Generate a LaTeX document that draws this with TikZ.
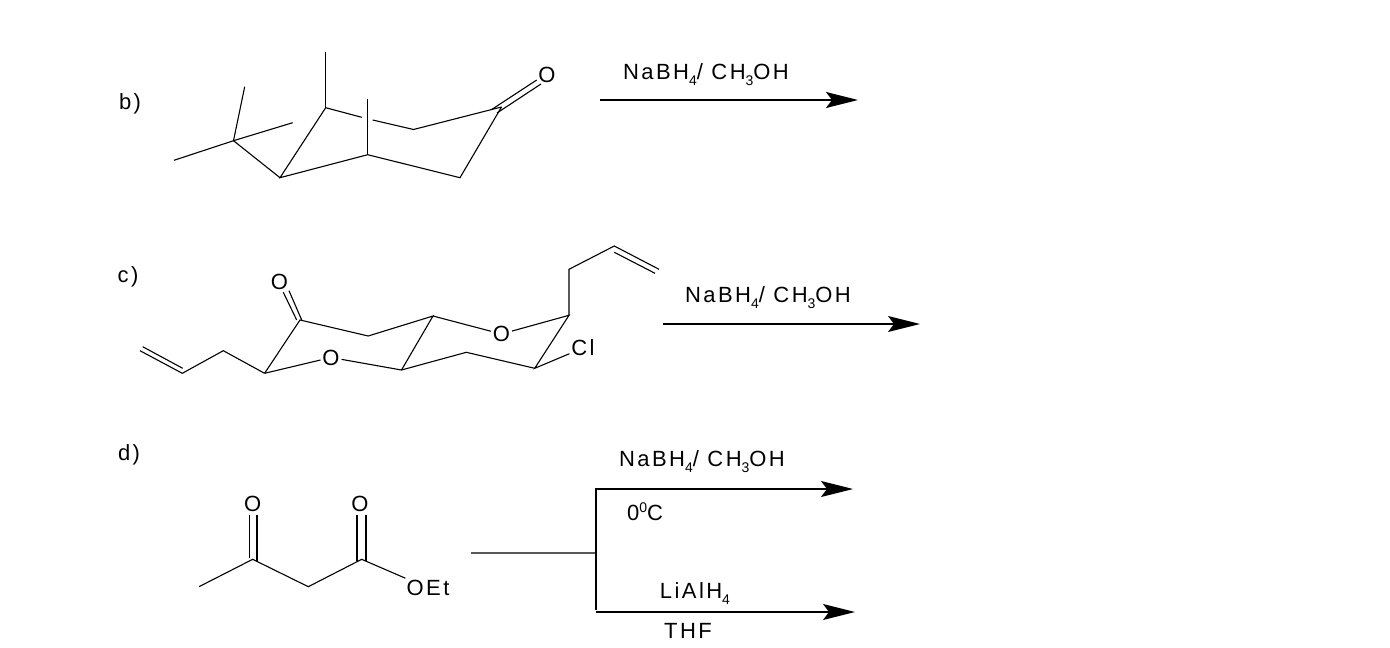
\documentclass[tikz,border=0pt]{standalone}
\usepackage{fontspec}
\setmainfont[LetterSpace=11]{Liberation Sans}
\usetikzlibrary{
    arrows.meta,
    positioning,
}
\newcommand{\lowdigit}[1]{\raisebox{-6pt}{\fontsize{14}{14}\selectfont #1}}
\newcommand{\highdigit}[1]{\raisebox{8pt}{\fontsize{14}{14}\selectfont #1}}
\tikzstyle{atom} = [inner sep=0pt, outer sep=2pt, font=\fontsize{22}{24}\selectfont]
\tikzstyle{tag} = [inner sep=0pt, font=\fontsize{22}{24}\selectfont]
\tikzstyle{line} = [draw, line width=1.1pt]
\tikzstyle{rxn} = [draw, line width=1.5pt,
    -{Stealth[length=32pt,width=16pt,inset=6pt]}]
\begin{document}
\begin{tikzpicture}[x=1pt, y=-1pt]
        \useasboundingbox (0,0) rectangle (1390,648);
        % Place nodes
        \node [tag] (tag_b) at (130,104) {b)};
        \node [tag] (tag_c) at (128,277) {c)};
        \node [tag] (tag_d) at (129,455) {d)};
        % first ketone
        \coordinate (b_c1) at (501.5,107);
        \coordinate (b_c2) at (413.5,129.5);
        \coordinate (b_c3) at (325.7,107.7);
        \coordinate (b_c4) at (280,177.7);
        \coordinate (b_c5) at (367.7,154.7);
        \coordinate (b_c6) at (460,177.7);
        \coordinate (b_me1) at (325.7,52);
        \coordinate (b_me2) at (367.7,99);
        \coordinate (b_tbu) at (233.5,140.7);
        \coordinate (b_me3) at (244.7,86.7);
        \coordinate (b_me4) at (292.7,122.7);
        \coordinate (b_me5) at (174,160.3);
        \coordinate (b_gapl) at (361.7,117.3);
        \coordinate (b_gapr) at (372.7,120);
        \coordinate (b_dbl1) at (491.7,109.5);
        \coordinate (b_dbl2) at (536.7,80);
        \coordinate (b_dbl3) at (497,113);
        \coordinate (b_dbl4) at (541,84);
        \node [atom] (b_o) at (547,75) {O};
        % bicyclic lactone
        \coordinate (c_a1) at (142.7,346.7);
        \coordinate (c_a2) at (182.7,368.3);
        \coordinate (c_a0) at (140,350.7);
        \coordinate (c_a3) at (182.3,373.3);
        \coordinate (c_a4) at (223.3,350.7);
        \coordinate (c_c1) at (264.6,373.3);
        \coordinate (c_c2) at (300,320);
        \coordinate (c_c3) at (368.2,336);
        \coordinate (c_c4) at (433,316);
        \coordinate (c_c5) at (401.5,370);
        \coordinate (c_c6) at (466.3,352.3);
        \coordinate (c_c7) at (534.7,368.3);
        \coordinate (c_c8) at (569,315.3);
        \coordinate (c_a5) at (569,269.3);
        \coordinate (c_a6) at (614.3,246);
        \coordinate (c_a7) at (659,269.3);
        \coordinate (c_a8) at (614.3,252.3);
        \coordinate (c_a9) at (655,273.3);
        \coordinate (c_dbl1) at (283.3,292.3);
        \coordinate (c_dbl2) at (296.7,320);
        \coordinate (c_dbl3) at (289,290.7);
        \coordinate (c_dbl4) at (301.7,320);
        \node [atom] (c_o1) at (279.4,282) {O};
        \node [atom] (c_o2) at (331,357.5) {O};
        \node [atom] (c_o3) at (501.4,334) {O};
        \node [atom] (c_cl) at (583,348) {Cl};
        % keto ester
        \coordinate (d_me) at (199,586.7);
        \coordinate (d_c1) at (252.7,559.3);
        \coordinate (d_c2) at (308.3,586.7);
        \coordinate (d_c3) at (361.7,559.3);
        \coordinate (d_dbl1) at (249.7,515);
        \coordinate (d_dbl2) at (249.7,558);
        \coordinate (d_dbl3) at (257,515);
        \coordinate (d_dbl4) at (257,561);
        \coordinate (d_dbl5) at (357,515);
        \coordinate (d_dbl6) at (357,561);
        \coordinate (d_dbl7) at (366,515);
        \coordinate (d_dbl8) at (366,561);
        \node [atom] (d_o1) at (252.7,504) {O};
        \node [atom] (d_o2) at (360,504) {O};
        \node [atom] (d_oet) at (428,588) {OEt};
        % reagents
        \coordinate (r_b1) at (600,100);
        \coordinate (r_b2) at (858,100);
        \coordinate (r_c1) at (663,324);
        \coordinate (r_c2) at (920,324);
        \coordinate (r_d0) at (471,553);
        \coordinate (r_d1) at (596,553);
        \coordinate (r_d2) at (596,488);
        \coordinate (r_d3) at (596,610);
        \coordinate (r_d4) at (853,489);
        \coordinate (r_d5) at (855,612);
        \node [tag] (lab_b) at (706,75) {NaBH\lowdigit{4}/ CH\lowdigit{3}OH};
        \node [tag] (lab_c) at (768,298) {NaBH\lowdigit{4}/ CH\lowdigit{3}OH};
        \node [tag] (lab_d1) at (702,462) {NaBH\lowdigit{4}/ CH\lowdigit{3}OH};
        \node [tag] (lab_d2) at (645,512) {0\highdigit{0}C};
        \node [tag] (lab_d3) at (695,594) {LiAlH\lowdigit{4}};
        \node [tag] (lab_d4) at (688,631) {THF};
        % Draw edges
        \path [line] (b_c1) -- (b_c2) -- (b_gapr);
        \path [line] (b_gapl) -- (b_c3) -- (b_c4) -- (b_c5) -- (b_c6) -- (b_c1);
        \path [line] (b_c3) -- (b_me1);
        \path [line] (b_c5) -- (b_me2);
        \path [line] (b_c4) -- (b_tbu) -- (b_me3);
        \path [line] (b_me5) -- (b_tbu) -- (b_me4);
        \path [line] (b_dbl1) -- (b_dbl2);
        \path [line] (b_dbl3) -- (b_dbl4);
        \path [line] (c_a1) -- (c_a2);
        \path [line] (c_a0) -- (c_a3) -- (c_a4) -- (c_c1);
        \path [line] (c_c1) -- (c_c2) -- (c_c3) -- (c_c4) -- (c_c5);
        \path [line] (c_c1) -- (c_o2) -- (c_c5) -- (c_c6) -- (c_c7);
        \path [line] (c_c4) -- (c_o3) -- (c_c8) -- (c_c7) -- (c_cl);
        \path [line] (c_c8) -- (c_a5) -- (c_a6) -- (c_a7);
        \path [line] (c_a8) -- (c_a9);
        \path [line] (c_dbl1) -- (c_dbl2);
        \path [line] (c_dbl3) -- (c_dbl4);
        \path [line] (d_me) -- (d_c1) -- (d_c2) -- (d_c3) -- (d_oet);
        \path [line] (d_dbl1) -- (d_dbl2);
        \path [line] (d_dbl3) -- (d_dbl4);
        \path [line] (d_dbl5) -- (d_dbl6);
        \path [line] (d_dbl7) -- (d_dbl8);
        \path [rxn, line width=2pt] (r_b1) -- (r_b2);
        \path [rxn] (r_c1) -- (r_c2);
        \path [line, gray!70!black] (r_d0) -- (r_d1);
        \path [line, line width=1.5pt] (r_d2) -- (r_d3);
        \path [rxn, line width=1.2pt] (r_d2 |- r_d4) -- (r_d4);
        \path [rxn] (r_d3 |- r_d5) -- (r_d5);
\end{tikzpicture}
\end{document}
